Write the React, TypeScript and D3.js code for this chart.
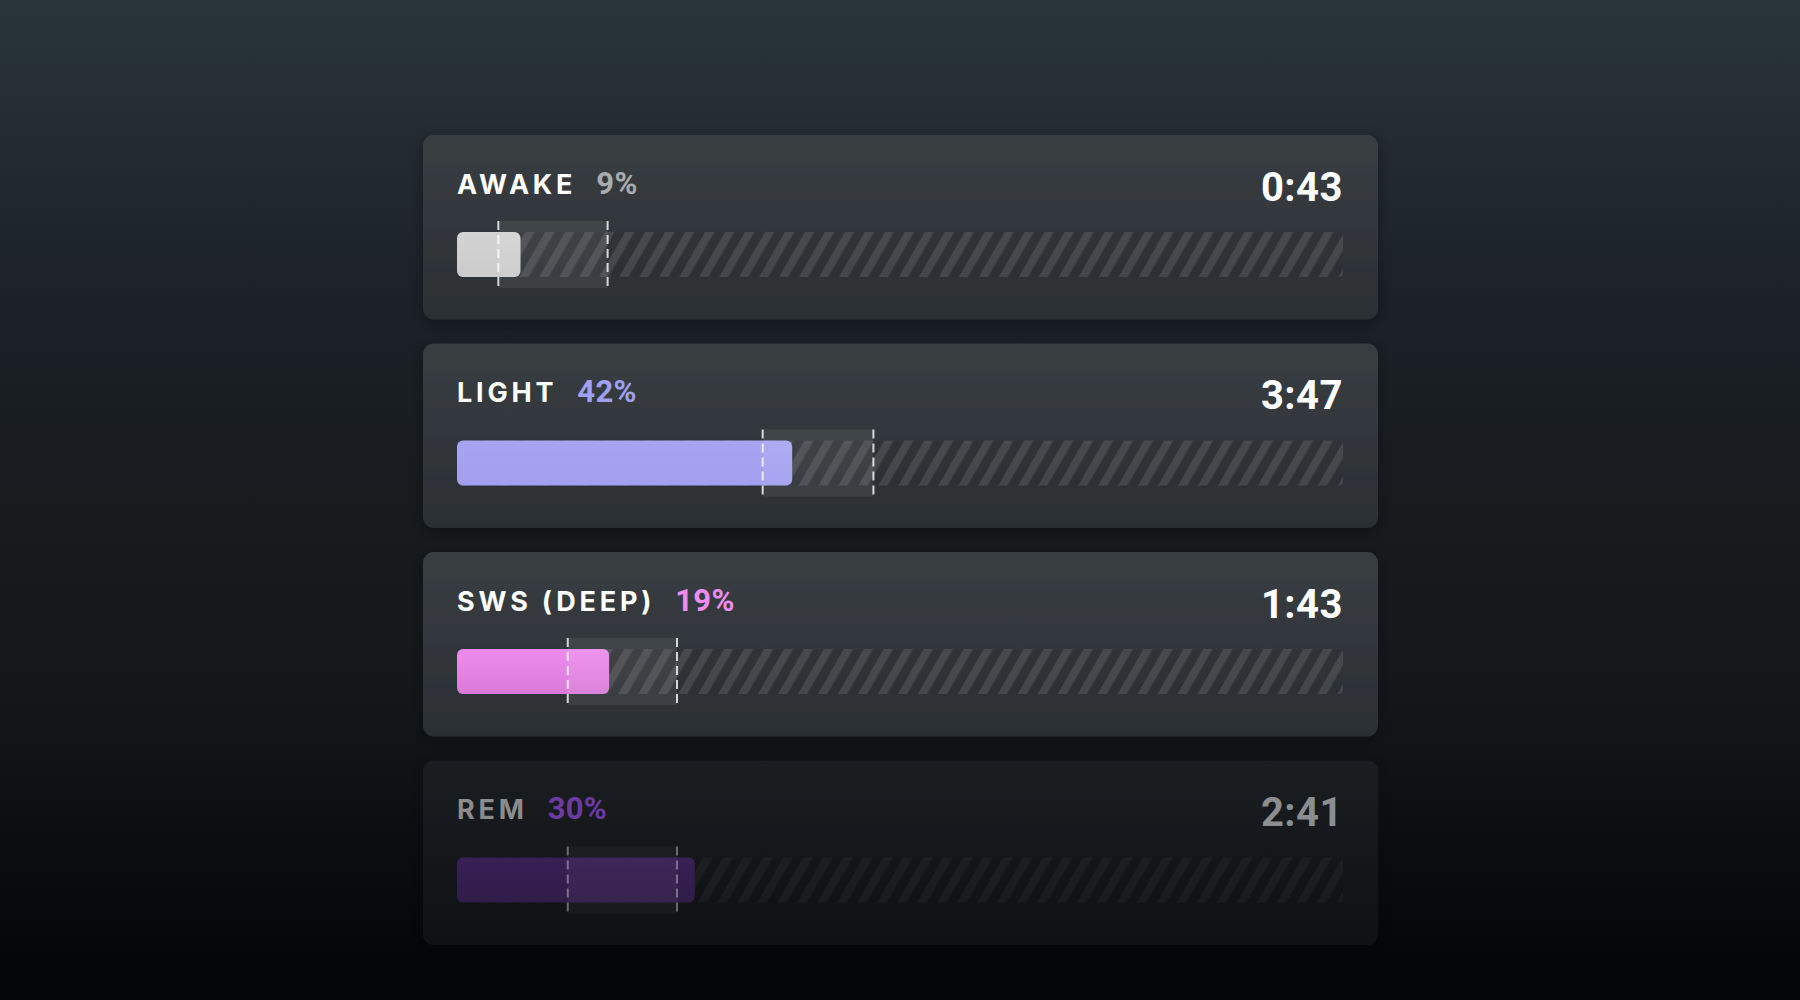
import React from "react";
import * as d3 from "d3";

const stages = ["AWAKE", "LIGHT", "SWS (DEEP)", "REM"];
const percents = [9, 42, 19, 30];
const durations = ["0:43", "3:47", "1:43", "2:41"];
const minutes = [43, 227, 103, 161];
const typicalLow = [28, 207, 75, 75];
const typicalHigh = [102, 282, 149, 149];
const maxMinutes = 600;

// REM row is shown dimmed
const fillTop = ["#d3d3d3", "#a7a5f2", "#ee8cee", "#392055"];
const fillBottom = ["#cbcbcb", "#a19fee", "#d97ad9", "#311c4a"];
const pctColors = ["#a9abad", "#a19ff0", "#ef8cef", "#6b3ba2"];
const titleColors = ["#ffffff", "#ffffff", "#ffffff", "#8a8c8e"];
const timeColors = ["#ffffff", "#ffffff", "#ffffff", "#8b8d8f"];
const cardOpacity = [1, 1, 1, 0.26];
const trackOpacity = [1, 1, 1, 0.32];
const rangeOpacity = [1, 1, 1, 0.45];

const W = 1800;
const H = 1000;

export default function App() {
  const x = d3.scaleLinear().domain([0, maxMinutes]).range([457, 1343]);
  const y = d3.scaleBand<string>().domain(stages).range([135, 945]).paddingInner(0.115);
  const card = { left: 423, right: 1378 };
  const trackH = 45;

  return (
    <div style={{ position: "fixed", left: 0, top: 0, width: W, height: H }}>
      <svg width={W} height={H} style={{ display: "block" }}>
        <defs>
          <linearGradient id="bg" x1="0" y1="0" x2="0" y2="1">
            <stop offset="0" stopColor="#29353b" />
            <stop offset="0.3" stopColor="#1b2127" />
            <stop offset="0.5" stopColor="#181b1e" />
            <stop offset="0.7" stopColor="#14171a" />
            <stop offset="0.86" stopColor="#0a0c0f" />
            <stop offset="1" stopColor="#030405" />
          </linearGradient>
          <linearGradient id="card" x1="0" y1="0" x2="0" y2="1">
            <stop offset="0" stopColor="#393e42" />
            <stop offset="1" stopColor="#2b2f33" />
          </linearGradient>
          <pattern
            id="hatch"
            patternUnits="userSpaceOnUse"
            width="17.3"
            height="20"
            patternTransform="rotate(30)"
          >
            <rect width="8" height="20" fill="rgba(255,255,255,0.11)" />
          </pattern>
          <filter id="shadow" x="-10%" y="-20%" width="120%" height="140%">
            <feDropShadow dx="0" dy="4" stdDeviation="8" floodColor="#000" floodOpacity="0.35" />
          </filter>
          {stages.map((s, i) => (
            <linearGradient key={s} id={`fill${i}`} x1="0" y1="0" x2="0" y2="1">
              <stop offset="0" stopColor={fillTop[i]} />
              <stop offset="1" stopColor={fillBottom[i]} />
            </linearGradient>
          ))}
        </defs>
        <rect width={W} height={H} fill="url(#bg)" />

        {stages.map((s, i) => {
          const top = y(s)!;
          const trackY = top + 97;
          return (
            <g key={s}>
              <rect
                x={card.left}
                y={top}
                width={card.right - card.left}
                height={y.bandwidth()}
                rx={11}
                fill="url(#card)"
                opacity={cardOpacity[i]}
                filter="url(#shadow)"
              />
              <text
                x={x(0)}
                y={top + 59}
                fontFamily="Inter, 'Noto Sans', sans-serif"
                fontWeight={700}
                fontSize={27}
              >
                <tspan fill={titleColors[i]} letterSpacing={3.8}>
                  {s}
                </tspan>
                <tspan
                  dx={20}
                  fill={pctColors[i]}
                  fontFamily="Roboto, sans-serif"
                  fontSize={31}
                  letterSpacing={0.3}
                >
                  {percents[i]}%
                </tspan>
              </text>
              <text
                x={x(maxMinutes)}
                y={top + 66}
                textAnchor="end"
                fill={timeColors[i]}
                fontFamily="Roboto, sans-serif"
                fontWeight={700}
                fontSize={40}
                letterSpacing={0.5}
              >
                {durations[i]}
              </text>

              <g opacity={trackOpacity[i]}>
                <rect
                  x={x(0)}
                  y={trackY}
                  width={x(maxMinutes) - x(0)}
                  height={trackH}
                  rx={4}
                  fill="rgba(0,0,0,0.04)"
                />
                <rect
                  x={x(0)}
                  y={trackY}
                  width={x(maxMinutes) - x(0)}
                  height={trackH}
                  rx={4}
                  fill="url(#hatch)"
                />
              </g>
              <rect
                x={x(0)}
                y={trackY}
                width={x(minutes[i]) - x(0)}
                height={trackH}
                rx={6}
                fill={`url(#fill${i})`}
              />
              <g opacity={rangeOpacity[i]}>
                <rect
                  x={x(typicalLow[i])}
                  y={top + 86}
                  width={x(typicalHigh[i]) - x(typicalLow[i])}
                  height={67}
                  fill="rgba(255,255,255,0.07)"
                />
                {[typicalLow[i], typicalHigh[i]].map((v, k) => (
                  <line
                    key={k}
                    x1={x(v)}
                    x2={x(v)}
                    y1={top + 86}
                    y2={top + 153}
                    stroke="rgba(255,255,255,0.8)"
                    strokeWidth={2}
                    strokeDasharray="9 5"
                  />
                ))}
              </g>
            </g>
          );
        })}
      </svg>
    </div>
  );
}
